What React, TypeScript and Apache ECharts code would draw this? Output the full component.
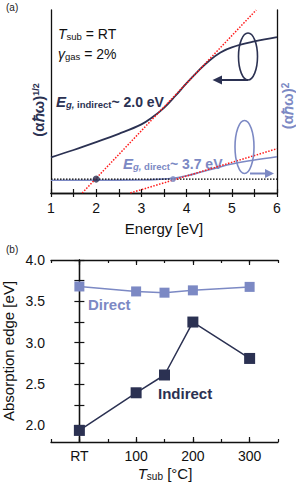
import React, { useEffect, useRef } from "react";
import * as echarts from "echarts";

// ---------- Panel (a) data ----------
const indirectCurve: [number, number][] = [
  [1.0, 19.5], [1.5, 23.5], [2.0, 27.8], [2.5, 32.3], [3.0, 37.5], [3.25, 41.5],
  [3.5, 46.5], [3.75, 53], [4.0, 60], [4.25, 66.5], [4.5, 72.3], [4.75, 76.8],
  [5.0, 79.6], [5.5, 82.8], [6.0, 85.2],
];
const directCurve: [number, number][] = [
  [1.0, 7.0], [2.0, 7.0], [3.0, 7.1], [3.4, 7.5], [3.7, 8.1], [4.0, 9.4],
  [4.3, 11.3], [4.7, 14.0], [5.0, 15.8], [5.5, 18.0], [6.0, 19.8],
];
const indirectFit: [number, number][] = [[1.69, 0], [5.54, 100]];
const directFit: [number, number][] = [[2.755, 0], [6.0, 24.2]];
const baseline: [number, number][] = [[1, 7.6], [6, 7.6]];
const indirectEdgeA: [number, number][] = [[2.0, 7.6]];
const directEdgeA: [number, number][] = [[3.7, 7.6]];
const energyTicks = [1, 2, 3, 4, 5, 6];

// ---------- Panel (b) data ----------
const tsubValues = [0, 100, 150, 200, 300];
const tsubLabels: Record<number, string> = { 0: "RT", 100: "100", 200: "200", 300: "300" };
const tsubMajorTicks = [0, 100, 200, 300];
const directEdge = [3.68, 3.62, 3.605, 3.633, 3.675];
const indirectEdge = [1.94, 2.395, 2.61, 3.25, 2.81];
const edgeLabelValues = [2.0, 2.5, 3.0, 3.5, 4.0];
const edgeTickValues = [2.0, 2.25, 2.5, 2.75, 3.0, 3.25, 3.5, 3.75, 4.0];

const DARK = "#2b3152";
const LIGHT = "#7c89c4";
const RED = "#ff1a1a";
const FONT = "'Liberation Sans', Arial, Helvetica, sans-serif";

export default function App() {
  const ref = useRef<HTMLDivElement>(null);
  useEffect(() => {
    if (!ref.current) return;
    const chart = echarts.init(ref.current, null, { renderer: "svg" });
    const axisLine = { show: true, lineStyle: { color: "#111", width: 1.3 } };
    const tickStyle = { color: "#111", width: 1.2 };
    const pair = (xs: number[], ys: number[]) => xs.map((x, i) => [x, ys[i]]);
    const subRich = (color: string, big: number, small: number, lh: number) => ({
      i: { fontSize: big, fontStyle: "italic", fontFamily: FONT, lineHeight: lh, verticalAlign: "bottom", fill: color },
      s: { fontSize: small, fontFamily: FONT, lineHeight: lh, verticalAlign: "bottom", fill: color },
      n: { fontSize: big, fontFamily: FONT, lineHeight: lh, verticalAlign: "bottom", fill: color },
    });
    const egRich = (color: string) => ({
      e: { fontSize: 15, fontWeight: "bold", fontStyle: "italic", fontFamily: FONT, lineHeight: 18, verticalAlign: "bottom", fill: color },
      g: { fontSize: 9.5, fontWeight: "bold", fontStyle: "italic", fontFamily: FONT, lineHeight: 18, verticalAlign: "bottom", fill: color },
      s: { fontSize: 9.5, fontWeight: "bold", fontFamily: FONT, lineHeight: 18, verticalAlign: "bottom", fill: color },
      n: { fontSize: 14, fontWeight: "bold", fontFamily: FONT, lineHeight: 18, verticalAlign: "bottom", fill: color },
    });
    const supRich = (color: string, small: number) => ({
      a: { fontSize: 15, fontWeight: "bold", fontFamily: FONT, lineHeight: 18, verticalAlign: "top", fill: color },
      p: { fontSize: small, fontWeight: "bold", fontFamily: FONT, lineHeight: 18, verticalAlign: "top", fill: color },
    });

    chart.setOption({
      animation: false,
      textStyle: { fontFamily: FONT },
      grid: [
        { left: 51, top: 10, width: 226, height: 183 },
        { left: 51, top: 260, width: 227, height: 182 },
      ],
      xAxis: [
        {
          gridIndex: 0, type: "value", min: 1, max: 6, interval: 0.5, position: "bottom",
          axisLine, splitLine: { show: false },
          axisTick: { show: true, inside: true, length: 4, lineStyle: tickStyle },
          axisLabel: {
            show: true, margin: 8, fontSize: 14, color: "#111", fontFamily: FONT,
            formatter: (v: number) => (energyTicks.includes(v) ? String(v) : ""),
          },
        },
        {
          gridIndex: 0, type: "value", min: 1, max: 6, interval: 0.5, position: "top",
          axisLine, splitLine: { show: false },
          axisTick: { show: true, inside: true, length: 4, lineStyle: tickStyle },
          axisLabel: { show: false },
        },
        {
          gridIndex: 1, type: "value", min: -50, max: 350, interval: 50, position: "bottom",
          axisLine, splitLine: { show: false },
          axisTick: { show: true, inside: true, length: 3, lineStyle: tickStyle },
          axisLabel: {
            show: true, margin: 7, fontSize: 14, color: "#111", fontFamily: FONT,
            formatter: (v: number) => tsubLabels[v] ?? "",
          },
        },
        {
          gridIndex: 1, type: "value", min: -50, max: 350, interval: 50, position: "top",
          axisLine, splitLine: { show: false },
          axisTick: { show: true, inside: true, length: 3, lineStyle: tickStyle },
          axisLabel: { show: false },
        },
        {
          gridIndex: 1, type: "value", min: -50, max: 350, position: "bottom",
          axisLine: { show: false }, splitLine: { show: false },
          axisTick: { show: true, inside: true, length: 5, customValues: tsubMajorTicks, lineStyle: tickStyle },
          axisLabel: { show: false },
        },
        {
          gridIndex: 1, type: "value", min: -50, max: 350, position: "top",
          axisLine: { show: false }, splitLine: { show: false },
          axisTick: { show: true, inside: true, length: 5, customValues: tsubMajorTicks, lineStyle: tickStyle },
          axisLabel: { show: false },
        },
      ],
      yAxis: [
        {
          gridIndex: 0, type: "value", min: 0, max: 100, position: "left",
          axisLine, splitLine: { show: false }, axisTick: { show: false }, axisLabel: { show: false },
        },
        {
          gridIndex: 0, type: "value", min: 0, max: 100, position: "right",
          axisLine, splitLine: { show: false }, axisTick: { show: false }, axisLabel: { show: false },
        },
        {
          gridIndex: 1, type: "value", min: 1.8, max: 4.0, position: "left",
          axisLine, splitLine: { show: false },
          axisTick: { show: true, inside: true, length: 5, customValues: edgeTickValues, lineStyle: tickStyle },
          axisLabel: {
            show: true, margin: 6, fontSize: 14, color: "#111", fontFamily: FONT,
            customValues: edgeLabelValues,
            formatter: (v: number) => v.toFixed(1),
          },
        },
        {
          gridIndex: 1, type: "value", min: 1.8, max: 4.0, position: "right",
          axisLine, splitLine: { show: false },
          axisTick: { show: true, inside: true, length: 5, customValues: edgeTickValues, lineStyle: tickStyle },
          axisLabel: { show: false },
        },
      ],
      series: [
        {
          type: "line", xAxisIndex: 0, yAxisIndex: 0, data: directCurve, smooth: 0.4,
          showSymbol: false, lineStyle: { color: LIGHT, width: 1.6 }, z: 2,
        },
        {
          type: "line", xAxisIndex: 0, yAxisIndex: 0, data: baseline, showSymbol: false,
          lineStyle: { color: "#000", width: 1.2, type: [1.5, 1.5] }, z: 3,
        },
        {
          type: "line", xAxisIndex: 0, yAxisIndex: 0, data: indirectCurve, smooth: 0.4,
          showSymbol: false, lineStyle: { color: DARK, width: 1.8 }, z: 2,
        },
        {
          type: "line", xAxisIndex: 0, yAxisIndex: 0, data: indirectFit, showSymbol: false,
          lineStyle: { color: RED, width: 1.5, type: [1.5, 1.5] }, z: 4,
        },
        {
          type: "line", xAxisIndex: 0, yAxisIndex: 0, data: directFit, showSymbol: false,
          lineStyle: { color: RED, width: 1.5, type: [1.5, 1.5] }, z: 4,
        },
        {
          type: "scatter", xAxisIndex: 0, yAxisIndex: 0, data: indirectEdgeA, symbol: "circle",
          symbolSize: 7, itemStyle: { color: DARK }, z: 5,
        },
        {
          type: "scatter", xAxisIndex: 0, yAxisIndex: 0, data: directEdgeA, symbol: "circle",
          symbolSize: 6, itemStyle: { color: LIGHT }, z: 5,
        },
        {
          name: "Direct", type: "line", xAxisIndex: 2, yAxisIndex: 2, data: pair(tsubValues, directEdge),
          symbol: "rect", symbolSize: 10, showAllSymbol: true,
          lineStyle: { color: LIGHT, width: 1.5 }, itemStyle: { color: LIGHT },
        },
        {
          name: "Indirect", type: "line", xAxisIndex: 2, yAxisIndex: 2, data: pair(tsubValues, indirectEdge),
          symbol: "rect", symbolSize: 11, showAllSymbol: true,
          lineStyle: { color: DARK, width: 1.5 }, itemStyle: { color: DARK },
        },
      ],
      graphic: [
        { type: "text", x: 6, y: 2, style: { text: "(a)", font: `10px ${FONT}`, fill: "#222" } },
        { type: "text", x: 6, y: 244, style: { text: "(b)", font: `10px ${FONT}`, fill: "#222" } },
        {
          type: "text", x: 58, y: 32,
          style: { text: "{i|T}{s|sub}{n| = RT}", verticalAlign: "middle", align: "left", fill: "#111", rich: subRich("#111", 14, 9.5, 18) },
        },
        {
          type: "text", x: 58, y: 52,
          style: { text: "{i|γ}{s|gas}{n| = 2%}", verticalAlign: "middle", align: "left", fill: "#111", rich: subRich("#111", 14, 9.5, 18) },
        },
        {
          type: "text", x: 56, y: 100,
          style: { text: "{e|E}{g|g, }{s|indirect}{n|~ 2.0 eV}", verticalAlign: "middle", align: "left", fill: DARK, rich: egRich(DARK) },
        },
        {
          type: "text", x: 123, y: 162,
          style: { text: "{e|E}{g|g, }{s|direct}{n|~ 3.7 eV}", verticalAlign: "middle", align: "left", fill: LIGHT, rich: egRich(LIGHT) },
        },
        { type: "ellipse", shape: { cx: 248, cy: 56.5, rx: 9.5, ry: 23.5 }, style: { fill: "none", stroke: DARK, lineWidth: 1.6 }, z: 10 },
        { type: "line", shape: { x1: 248, y1: 80, x2: 220, y2: 80 }, style: { stroke: DARK, lineWidth: 2 }, z: 10 },
        { type: "polygon", shape: { points: [[212.5, 80], [222, 75.5], [222, 84.5]] }, style: { fill: DARK }, z: 10 },
        { type: "ellipse", shape: { cx: 244.5, cy: 147, rx: 9.5, ry: 26.5 }, style: { fill: "none", stroke: LIGHT, lineWidth: 1.6 }, z: 10 },
        { type: "line", shape: { x1: 250, y1: 173.5, x2: 266, y2: 173.5 }, style: { stroke: LIGHT, lineWidth: 2 }, z: 10 },
        { type: "polygon", shape: { points: [[274, 173.5], [265, 169], [265, 178]] }, style: { fill: LIGHT }, z: 10 },
        {
          type: "text", x: 40, y: 110, rotation: Math.PI / 2,
          style: { text: "{a|(αℏω)}{p|1/2}", align: "center", verticalAlign: "middle", fill: DARK, rich: supRich(DARK, 9) },
        },
        {
          type: "text", x: 289, y: 106, rotation: Math.PI / 2,
          style: { text: "{a|(αℏω)}{p|2}", align: "center", verticalAlign: "middle", fill: LIGHT, rich: supRich(LIGHT, 10) },
        },
        {
          type: "text", x: 164, y: 228,
          style: { text: "Energy [eV]", font: `15px ${FONT}`, fill: "#111", align: "center", verticalAlign: "middle" },
        },
        {
          type: "text", x: 8, y: 351, rotation: Math.PI / 2,
          style: { text: "Absorption edge [eV]", font: `15px ${FONT}`, fill: "#111", align: "center", verticalAlign: "middle" },
        },
        {
          type: "text", x: 165, y: 473,
          style: { text: "{i|T}{s|sub}{n| [°C]}", align: "center", verticalAlign: "middle", fill: "#111", rich: subRich("#111", 15, 10, 16) },
        },
        {
          type: "text", x: 88, y: 304,
          style: { text: "Direct", font: `bold 15px ${FONT}`, fill: LIGHT, align: "left", verticalAlign: "middle" },
        },
        {
          type: "text", x: 158, y: 393,
          style: { text: "Indirect", font: `bold 15px ${FONT}`, fill: DARK, align: "left", verticalAlign: "middle" },
        },
      ],
    });
    return () => chart.dispose();
  }, []);
  return (
    <div
      ref={ref}
      style={{ position: "absolute", left: 0, top: 0, width: 296, height: 483, background: "#fff" }}
    />
  );
}
